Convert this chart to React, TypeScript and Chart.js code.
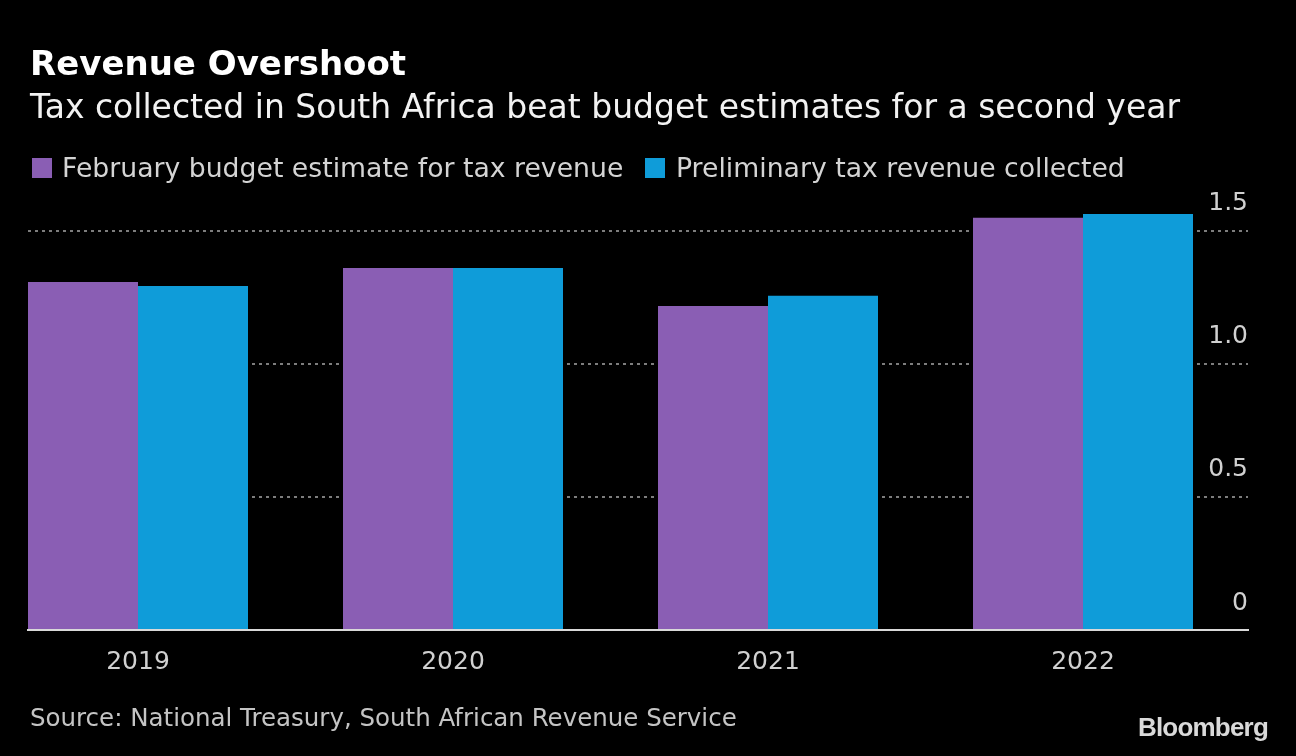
import React, { useEffect, useRef } from "react";
import { Chart, registerables } from "chart.js";

Chart.register(...registerables);

const years = ["2019", "2020", "2021", "2022"];
const budgetEstimate = [1.308, 1.361, 1.218, 1.549];
const collected = [1.293, 1.361, 1.256, 1.564];
const yTickValues = [0, 0.5, 1.0, 1.5];
const yTickLabels = ["0", "0.5", "1.0", "1.5"];
const seriesNames = [
  "February budget estimate for tax revenue",
  "Preliminary tax revenue collected",
];
const seriesColors = ["#8a5eb4", "#0f9cd9"];

const FONT = "'DejaVu Sans', sans-serif";

export default function App() {
  const canvasRef = useRef<HTMLCanvasElement | null>(null);

  useEffect(() => {
    if (!canvasRef.current) return;
    const chart = new Chart(canvasRef.current, {
      type: "bar",
      data: {
        datasets: [
          {
            label: seriesNames[0],
            data: budgetEstimate.map((v, i) => ({ x: i, y: v })),
            backgroundColor: seriesColors[0],
            borderWidth: 0,
          },
          {
            label: seriesNames[1],
            data: collected.map((v, i) => ({ x: i, y: v })),
            backgroundColor: seriesColors[1],
            borderWidth: 0,
          },
        ],
      },
      options: {
        animation: false,
        responsive: false,
        devicePixelRatio: 1,
        categoryPercentage: 220 / 315,
        barPercentage: 1,
        layout: { padding: { left: 28, right: 48, top: 191, bottom: 62 } },
        plugins: {
          legend: { display: false },
          tooltip: { enabled: false },
          title: { display: false },
        },
        scales: {
          x: {
            type: "linear",
            offset: false,
            min: -110 / 315,
            max: 3 + 165 / 315,
            afterBuildTicks: (scale: any) => {
              scale.ticks = years.map((_, i) => ({ value: i }));
            },
            grid: { display: false, drawTicks: false, offset: false },
            border: { display: true, color: "#d9d9d9", width: 2 },
            ticks: {
              autoSkip: false,
              maxRotation: 0,
              padding: 17,
              color: "#d0d0d0",
              font: { family: FONT, size: 25 },
              callback: (v: any) => years[Math.round(Number(v))] ?? "",
            },
          },
          y: {
            type: "linear",
            position: "right",
            min: 0,
            max: 1.65,
            afterBuildTicks: (scale: any) => {
              scale.ticks = yTickValues.map((v) => ({ value: v }));
            },
            grid: {
              drawTicks: false,
              lineWidth: 2,
              color: (ctx: any) =>
                ctx.tick && ctx.tick.value === 0 ? "rgba(0,0,0,0)" : "#7d7d7d",
            },
            border: { display: false, dash: [3, 4] },
            ticks: {
              mirror: true,
              padding: 0,
              labelOffset: -27,
              color: "#d0d0d0",
              font: { family: FONT, size: 25 },
              callback: (v: any) => {
                const idx = yTickValues.indexOf(Number(v));
                return idx >= 0 ? yTickLabels[idx] : "";
              },
            },
          },
        },
      },
    } as any);
    return () => chart.destroy();
  }, []);

  const text = (style: React.CSSProperties, content: string) => (
    <div
      style={{
        position: "absolute",
        whiteSpace: "nowrap",
        lineHeight: 1,
        fontFamily: FONT,
        ...style,
      }}
    >
      {content}
    </div>
  );

  return (
    <div
      style={{
        position: "fixed",
        left: 0,
        top: 0,
        width: 1296,
        height: 756,
        background: "#000",
        overflow: "hidden",
      }}
    >
      <canvas
        ref={canvasRef}
        width={1296}
        height={756}
        style={{ position: "absolute", left: 0, top: 0, width: 1296, height: 756 }}
      />
      {text(
        { left: 30, top: 46, fontSize: 34, fontWeight: 700, color: "#ffffff" },
        "Revenue Overshoot"
      )}
      {text(
        { left: 30, top: 90, fontSize: 33, color: "#f2f2f2" },
        "Tax collected in South Africa beat budget estimates for a second year"
      )}
      <div
        style={{
          position: "absolute",
          left: 32,
          top: 158,
          width: 20,
          height: 20,
          background: seriesColors[0],
        }}
      />
      {text(
        { left: 62, top: 155, fontSize: 26.7, color: "#d4d4d4" },
        seriesNames[0]
      )}
      <div
        style={{
          position: "absolute",
          left: 645,
          top: 158,
          width: 20,
          height: 20,
          background: seriesColors[1],
        }}
      />
      {text(
        { left: 676, top: 155, fontSize: 26.7, color: "#d4d4d4" },
        seriesNames[1]
      )}
      {text(
        { left: 30, top: 706, fontSize: 24.5, color: "#c4c4c4" },
        "Source: National Treasury, South African Revenue Service"
      )}
      {text(
        {
          right: 28,
          top: 714,
          fontSize: 26,
          fontWeight: 700,
          color: "#d9d9d9",
          fontFamily: "'Liberation Sans', Arial, sans-serif",
          letterSpacing: -0.8,
        },
        "Bloomberg"
      )}
    </div>
  );
}
